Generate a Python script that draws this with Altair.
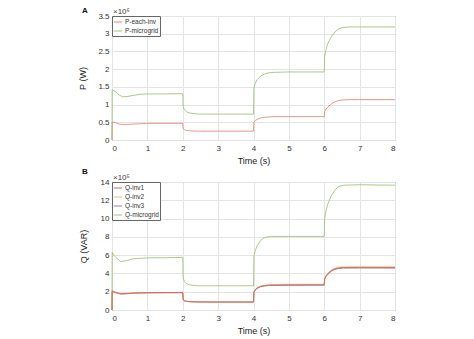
import altair as alt
import pandas as pd

# ---------------- Panel A: active power (x 10^6 W) ----------------
t_p = [0, 0.005, 0.1, 0.2, 0.3, 0.45, 0.6, 0.8, 1.0, 1.5, 2.0,
       2.01, 2.05, 2.1, 2.2, 2.35, 2.5, 3.0, 4.0,
       4.01, 4.05, 4.1, 4.2, 4.3, 4.45, 4.6, 5.0, 6.0,
       6.01, 6.05, 6.1, 6.2, 6.3, 6.4, 6.5, 6.7, 7.0, 8.0]
p_microgrid = [0, 1.42, 1.36, 1.27, 1.22, 1.23, 1.26, 1.29, 1.30, 1.30, 1.31,
               0.95, 0.85, 0.80, 0.76, 0.74, 0.73, 0.73, 0.73,
               1.45, 1.60, 1.70, 1.80, 1.86, 1.90, 1.91, 1.92, 1.92,
               2.35, 2.55, 2.72, 2.92, 3.05, 3.13, 3.17, 3.19, 3.19, 3.19]
p_each_inv = [0, 0.51, 0.49, 0.45, 0.44, 0.44, 0.45, 0.46, 0.47, 0.47, 0.47,
              0.32, 0.29, 0.27, 0.26, 0.25, 0.25, 0.25, 0.25,
              0.50, 0.55, 0.58, 0.62, 0.64, 0.65, 0.66, 0.66, 0.66,
              0.80, 0.87, 0.93, 1.02, 1.08, 1.11, 1.13, 1.14, 1.14, 1.14]

# ---------------- Panel B: reactive power (x 10^5 VAR) ----------------
t_q = [0, 0.005, 0.05, 0.15, 0.25, 0.4, 0.6, 1.0, 1.5, 2.0,
       2.01, 2.05, 2.1, 2.2, 2.4, 3.0, 4.0,
       4.01, 4.05, 4.1, 4.2, 4.3, 4.45, 5.0, 6.0,
       6.01, 6.05, 6.1, 6.2, 6.3, 6.4, 6.55, 7.0, 8.0]
q_microgrid = [0, 6.3, 6.0, 5.6, 5.3, 5.4, 5.6, 5.7, 5.72, 5.75,
               3.5, 3.1, 2.9, 2.75, 2.65, 2.65, 2.65,
               5.8, 6.5, 7.0, 7.6, 7.9, 8.05, 8.05, 8.05,
               10.0, 10.8, 11.6, 12.5, 13.1, 13.5, 13.65, 13.7, 13.65]
q_inv1 = [0, 2.1, 2.02, 1.88, 1.78, 1.8, 1.86, 1.9, 1.91, 1.92,
          1.15, 1.02, 0.96, 0.92, 0.89, 0.88, 0.88,
          1.95, 2.2, 2.4, 2.58, 2.66, 2.72, 2.75, 2.76,
          3.4, 3.7, 3.95, 4.3, 4.5, 4.6, 4.65, 4.66, 4.65]
q_inv2 = [0, 2.05, 1.98, 1.85, 1.76, 1.79, 1.85, 1.89, 1.9, 1.91,
          1.13, 1.0, 0.95, 0.91, 0.88, 0.87, 0.87,
          1.98, 2.24, 2.44, 2.62, 2.7, 2.77, 2.8, 2.81,
          3.45, 3.76, 4.02, 4.38, 4.58, 4.68, 4.72, 4.73, 4.72]
q_inv3 = [0, 2.0, 1.95, 1.83, 1.75, 1.77, 1.83, 1.87, 1.88, 1.89,
          1.12, 0.99, 0.94, 0.9, 0.87, 0.86, 0.86,
          1.92, 2.16, 2.36, 2.53, 2.62, 2.68, 2.7, 2.71,
          3.36, 3.65, 3.9, 4.24, 4.43, 4.54, 4.58, 4.59, 4.58]

x_ticks = [0, 1, 2, 3, 4, 5, 6, 7, 8]
p_ticks = [0, 0.5, 1, 1.5, 2, 2.5, 3, 3.5]
q_ticks = [0, 2, 4, 6, 8, 10, 12, 14]

p_names = ["P-each-inv", "P-microgrid"]
p_colors = ["#e2806f", "#98bd6c"]
q_names = ["Q-inv1", "Q-inv2", "Q-inv3", "Q-microgrid"]
q_colors = ["#d65a4c", "#eab860", "#8a70ad", "#98bd6c"]

df_p = pd.concat([
    pd.DataFrame({"t": t_p, "v": p_each_inv, "s": p_names[0], "o": 0}),
    pd.DataFrame({"t": t_p, "v": p_microgrid, "s": p_names[1], "o": 1}),
])
df_q = pd.concat([
    pd.DataFrame({"t": t_q, "v": q_microgrid, "s": q_names[3], "o": 0}),
    pd.DataFrame({"t": t_q, "v": q_inv3, "s": q_names[2], "o": 1}),
    pd.DataFrame({"t": t_q, "v": q_inv2, "s": q_names[1], "o": 2}),
    pd.DataFrame({"t": t_q, "v": q_inv1, "s": q_names[0], "o": 3}),
])

FONT = "Liberation Sans"
W = 283


def xaxis():
    return alt.X("t:Q", scale=alt.Scale(domain=[0, 8], nice=False),
                 axis=alt.Axis(values=x_ticks, title="Time (s)", ticks=False,
                               labelPadding=4, titlePadding=4, format="d"))


legend_common = dict(orient="top-left", offset=0, title=None, strokeColor="#666",
                     fillColor="white", padding=1, labelFontSize=6.5,
                     symbolType="stroke", symbolStrokeWidth=1, symbolSize=70,
                     rowPadding=0, labelColor="#333", labelFont=FONT,
                     cornerRadius=0, symbolOffset=0, labelOffset=2)

lines_p = alt.Chart(df_p).mark_line(strokeWidth=0.9, opacity=0.9).encode(
    x=xaxis(),
    y=alt.Y("v:Q", scale=alt.Scale(domain=[0, 3.5], nice=False),
            axis=alt.Axis(values=p_ticks, title="P (W)", ticks=False, labelPadding=3,
                          titlePadding=10, format="~g")),
    color=alt.Color("s:N", scale=alt.Scale(domain=p_names, range=p_colors),
                    legend=alt.Legend(**legend_common)),
    order="o:Q",
)
exp_p = alt.Chart(pd.DataFrame({"txt": ["×10⁶"]})).mark_text(
    align="left", baseline="bottom", fontSize=8, font=FONT, color="#444"
).encode(x=alt.value(1), y=alt.value(0), text="txt:N")
lab_a = alt.Chart(pd.DataFrame({"txt": ["A"]})).mark_text(
    align="center", baseline="middle", fontSize=8, font=FONT, fontWeight="bold", color="#111"
).encode(x=alt.value(-27), y=alt.value(-5), text="txt:N")

panel_a = alt.layer(lines_p, exp_p, lab_a).properties(width=W, height=124)

lines_q = alt.Chart(df_q).mark_line(strokeWidth=0.9, opacity=0.9).encode(
    x=xaxis(),
    y=alt.Y("v:Q", scale=alt.Scale(domain=[0, 14], nice=False),
            axis=alt.Axis(values=q_ticks, title="Q (VAR)", ticks=False, labelPadding=3,
                          titlePadding=12, format="~g")),
    color=alt.Color("s:N", scale=alt.Scale(domain=q_names, range=q_colors),
                    legend=alt.Legend(**legend_common)),
    order="o:Q",
)
exp_q = alt.Chart(pd.DataFrame({"txt": ["×10⁵"]})).mark_text(
    align="left", baseline="bottom", fontSize=8, font=FONT, color="#444"
).encode(x=alt.value(1), y=alt.value(0), text="txt:N")
lab_b = alt.Chart(pd.DataFrame({"txt": ["B"]})).mark_text(
    align="center", baseline="middle", fontSize=8, font=FONT, fontWeight="bold", color="#111"
).encode(x=alt.value(-27), y=alt.value(-10), text="txt:N")

panel_b = alt.layer(lines_q, exp_q, lab_b).properties(width=W, height=128)

chart = alt.vconcat(panel_a, panel_b, spacing=42, bounds="flush").resolve_scale(
    color="independent"
).resolve_legend(color="independent").properties(
    padding={"left": 78, "top": 6, "right": 10, "bottom": 5},
    background="white",
).configure_view(
    stroke="#666", strokeWidth=1
).configure_axis(
    labelFont=FONT, titleFont=FONT, labelFontSize=8, titleFontSize=9,
    labelColor="#333", titleColor="#222", titleFontWeight="normal",
    grid=True, gridColor="#e4e4e4", gridWidth=1, domain=False,
)

chart.save("out.html", embed_options={"renderer": "svg", "actions": False})
